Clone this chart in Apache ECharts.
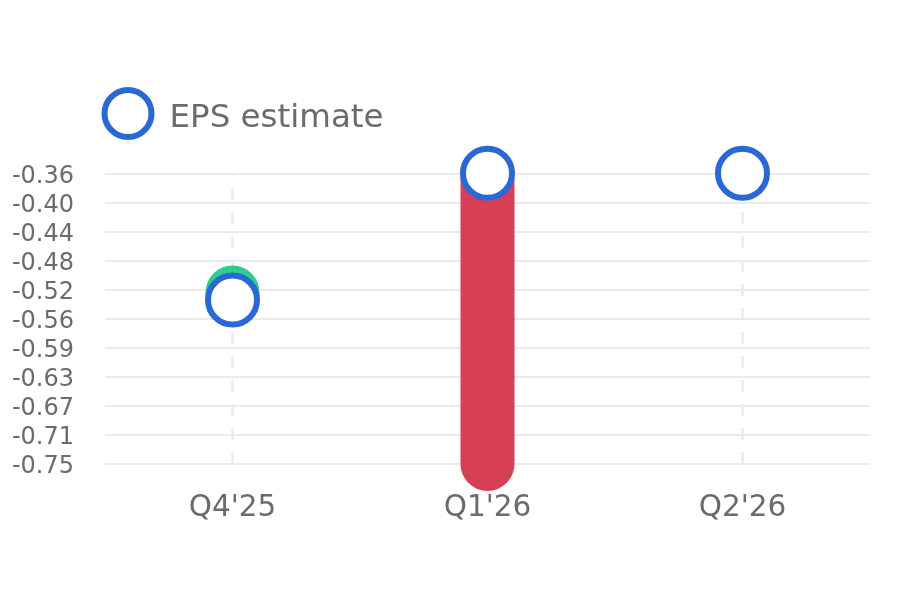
<!DOCTYPE html>
<html>
<head>
<meta charset="utf-8">
<script src="https://cdn.jsdelivr.net/npm/echarts@6/dist/echarts.min.js"></script>
<style>html,body{margin:0;padding:0;background:#fff}#c{width:900px;height:600px}</style>
</head>
<body>
<div id="c"></div>
<script>
const categories = ["Q4'25", "Q1'26", "Q2'26"];
const epsEstimate = [-0.53, -0.36, -0.36];
const epsActual = [-0.52, -0.75, null];
const yTickLabels = ['-0.75', '-0.71', '-0.67', '-0.63', '-0.59', '-0.56', '-0.52', '-0.48', '-0.44', '-0.40', '-0.36'];
const yMin = -0.75;
const yStep = 0.039;

const BLUE = '#2968d6', GREEN = '#2ecc8e', RED = '#d73f55', GRID = '#ebebeb', TXT = '#6b6b6b';
const FONT = 'DejaVu Sans';

const chart = echarts.init(document.getElementById('c'), null, {renderer: 'canvas'});

const barData = [];
categories.forEach((c, i) => {
  if (epsActual[i] !== null) barData.push([i, epsEstimate[i] - yMin, epsActual[i] - yMin]);
});

chart.setOption({
  animation: false,
  textStyle: {fontFamily: FONT},
  grid: {left: 105, right: 30, top: 173.3, bottom: 136},
  legend: {
    data: ['EPS estimate'],
    left: 101.5, top: 87, padding: 0,
    itemWidth: 47, itemHeight: 47, itemGap: 10,
    icon: 'circle',
    itemStyle: {color: '#fff', borderColor: BLUE, borderWidth: 6},
    formatter: n => '{t|' + n + '}',
    textStyle: {
      color: TXT, fontSize: 32.5, fontFamily: FONT,
      rich: {t: {color: TXT, fontSize: 32.5, fontFamily: FONT, padding: [11, 0, 0, 13]}}
    }
  },
  xAxis: {
    type: 'category',
    data: categories,
    boundaryGap: true,
    axisLine: {show: false},
    axisTick: {show: false},
    splitLine: {show: false},
    axisLabel: {color: TXT, fontSize: 29.5, fontFamily: FONT, margin: 29}
  },
  yAxis: {
    type: 'value',
    min: 0,
    max: yStep * (yTickLabels.length - 1),
    interval: yStep,
    axisLine: {show: false},
    axisTick: {show: false},
    splitLine: {lineStyle: {color: GRID, width: 2}},
    axisLabel: {
      color: TXT, fontSize: 24, fontFamily: FONT, margin: 31,
      formatter: v => '{y|' + yTickLabels[Math.round(v / yStep)] + '}',
      rich: {y: {color: TXT, fontSize: 24, fontFamily: FONT, padding: [6, 0, 0, 0]}}
    }
  },
  series: [
    {
      type: 'line', data: [], z: 1, silent: true,
      markLine: {
        z: 1, silent: true, symbol: 'none', label: {show: false},
        lineStyle: {color: GRID, width: 2.5, type: [12, 12]},
        data: categories.map((c, i) => ({xAxis: i}))
      }
    },
    {
      name: 'EPS actual',
      type: 'custom', z: 3,
      data: barData,
      renderItem: (params, api) => {
        const x = api.value(0), est = api.value(1), act = api.value(2);
        const p1 = api.coord([x, est]);
        const p2 = api.coord([x, act]);
        return {
          type: 'line',
          shape: {x1: p1[0], y1: p1[1], x2: p2[0], y2: p2[1]},
          style: {stroke: act >= est ? GREEN : RED, lineWidth: 54, lineCap: 'round', fill: null}
        };
      }
    },
    {
      name: 'EPS estimate',
      type: 'scatter', z: 5,
      data: epsEstimate.map(v => v - yMin),
      symbol: 'circle',
      symbolSize: 49,
      itemStyle: {color: '#fff', borderColor: BLUE, borderWidth: 6, opacity: 1}
    }
  ]
});
</script>
</body>
</html>
